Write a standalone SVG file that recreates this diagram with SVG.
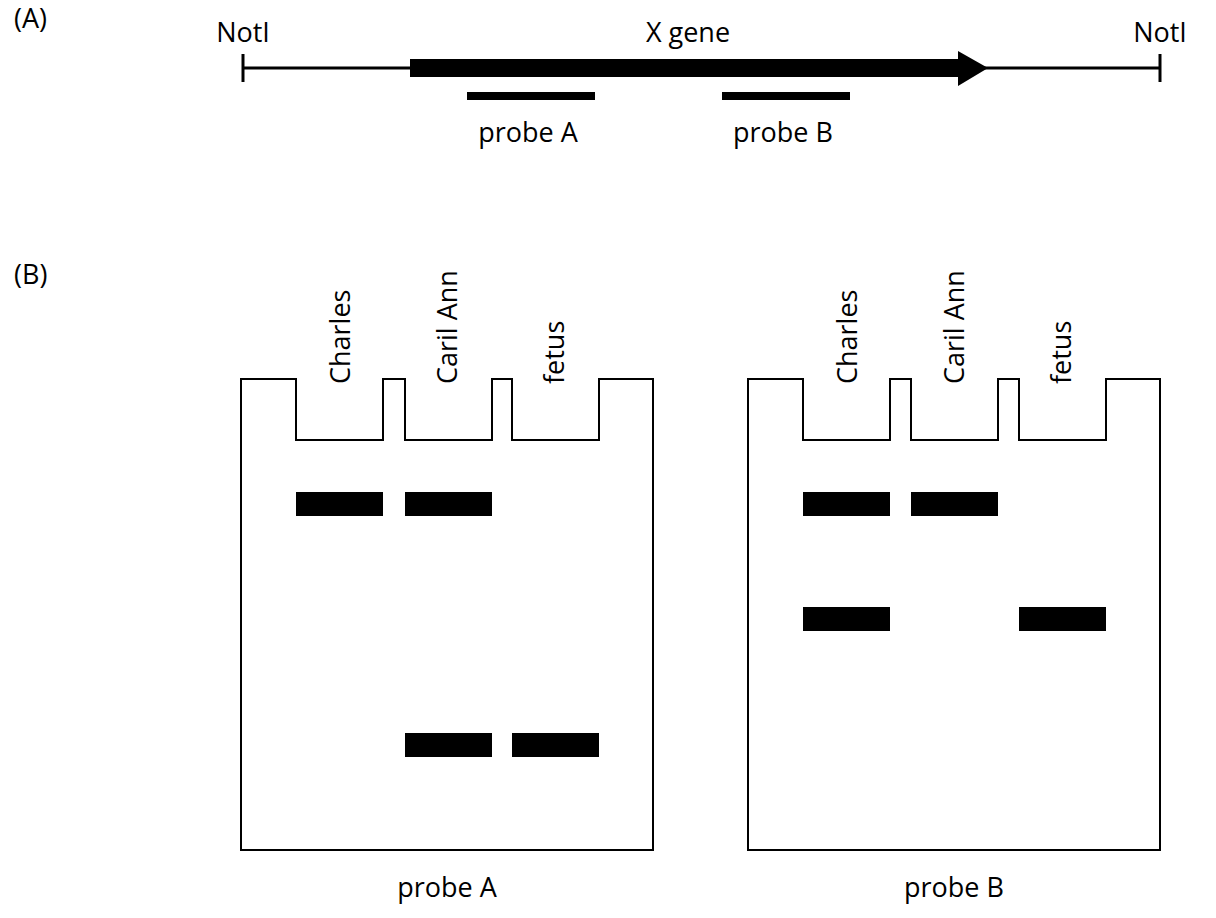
<svg xmlns="http://www.w3.org/2000/svg" width="1216" height="918" viewBox="0 0 1216 918">
<style>
text{font-family:"Open Sans","Noto Sans",sans-serif;font-size:27px;fill:#000}
.gel{fill:none;stroke:#000;stroke-width:2}
.band{fill:#000}
.lane{text-anchor:start}
</style>
<rect width="1216" height="918" fill="#fff"/>
<text x="14" y="28">(A)</text>
<text x="14" y="284">(B)</text>
<g id="map">
<line x1="243" y1="68" x2="1160" y2="68" stroke="#000" stroke-width="3"/>
<line x1="243" y1="54" x2="243" y2="82" stroke="#000" stroke-width="3"/>
<line x1="1160" y1="54" x2="1160" y2="82" stroke="#000" stroke-width="3"/>
<polygon points="410,59 958,59 958,51 988,68 958,86 958,77 410,77" fill="#000"/>
<rect x="467" y="92" width="128" height="8" fill="#000"/>
<rect x="722" y="92" width="128" height="8" fill="#000"/>
<text x="243" y="42" text-anchor="middle">NotI</text>
<text x="688" y="42" text-anchor="middle">X gene</text>
<text x="1160" y="42" text-anchor="middle">NotI</text>
<text x="528" y="142" text-anchor="middle">probe A</text>
<text x="783" y="142" text-anchor="middle">probe B</text>
</g>
<g id="gelA">
<path class="gel" d="M241,379 H296 V440 H383 V379 H405 V440 H492 V379 H512 V440 H599 V379 H653 V850 H241 Z"/>
<text class="lane" transform="translate(350,384) rotate(-90)">Charles</text>
<text class="lane" transform="translate(457,384) rotate(-90)">Caril Ann</text>
<text class="lane" transform="translate(564,384) rotate(-90)">fetus</text>
<rect class="band" x="296" y="492" width="87" height="24"/>
<rect class="band" x="405" y="492" width="87" height="24"/>
<rect class="band" x="405" y="733" width="87" height="24"/>
<rect class="band" x="512" y="733" width="87" height="24"/>
<text x="447" y="897" text-anchor="middle">probe A</text>
</g>
<g id="gelB">
<path class="gel" d="M748,379 H803 V440 H890 V379 H911 V440 H998 V379 H1019 V440 H1106 V379 H1160 V850 H748 Z"/>
<text class="lane" transform="translate(857,384) rotate(-90)">Charles</text>
<text class="lane" transform="translate(964,384) rotate(-90)">Caril Ann</text>
<text class="lane" transform="translate(1071,384) rotate(-90)">fetus</text>
<rect class="band" x="803" y="492" width="87" height="24"/>
<rect class="band" x="911" y="492" width="87" height="24"/>
<rect class="band" x="803" y="607" width="87" height="24"/>
<rect class="band" x="1019" y="607" width="87" height="24"/>
<text x="954" y="897" text-anchor="middle">probe B</text>
</g>
<g id="connectors"/>
</svg>
